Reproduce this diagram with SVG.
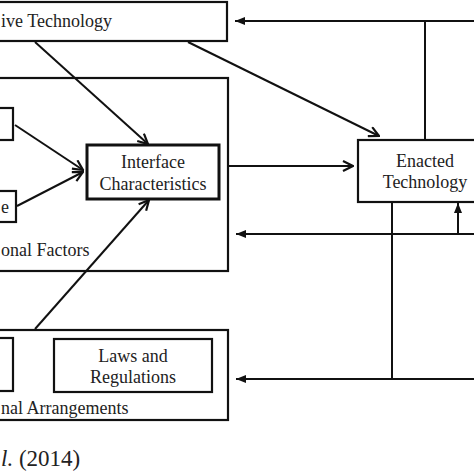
<svg xmlns="http://www.w3.org/2000/svg" width="474" height="474" viewBox="0 0 474 474">
<style>
.box{fill:#fff;stroke:#111;stroke-width:2.2}
.thick{fill:#fff;stroke:#111;stroke-width:3}
.t{font-family:"Liberation Serif","Times New Roman",serif;font-size:18px;fill:#222}
.c{text-anchor:middle}
.ln{fill:none;stroke:#111;stroke-width:2}
</style>
<defs>
<marker id="open" viewBox="0 0 12 12" refX="11" refY="6" markerWidth="12" markerHeight="12" orient="auto" markerUnits="userSpaceOnUse"><path d="M1,1 L11,6 L1,11" fill="none" stroke="#111" stroke-width="2.2"/></marker>
<marker id="fill" viewBox="0 0 10 8" refX="10" refY="4" markerWidth="10" markerHeight="8" orient="auto" markerUnits="userSpaceOnUse"><path d="M0,0 L10,4 L0,8 Z" fill="#111"/></marker>
</defs>
<rect width="474" height="474" fill="#fff"/>
<g id="perceived-technology">
<rect class="box" x="-5" y="2" width="232" height="39"/>
<text class="t" x="1" y="27">ive Technology</text>
</g>
<g id="organizational-factors">
<rect class="box" x="-5" y="78" width="233" height="193"/>
<text class="t" x="1" y="256">onal Factors</text>
</g>
<g id="org-box-1">
<rect class="box" x="-5" y="108" width="18" height="32"/>
</g>
<g id="org-box-2">
<rect class="box" x="-5" y="191" width="21" height="31"/>
<text class="t" x="1" y="213">e</text>
</g>
<g id="interface-characteristics">
<rect class="thick" x="87" y="145" width="132" height="54"/>
<text class="t c" x="153" y="168">Interface</text>
<text class="t c" x="153" y="190">Characteristics</text>
</g>
<g id="enacted-technology">
<rect class="box" x="358" y="140" width="125" height="62"/>
<text class="t c" x="425" y="167">Enacted</text>
<text class="t c" x="425" y="188">Technology</text>
</g>
<g id="institutional-arrangements">
<rect class="box" x="-5" y="330" width="233" height="90"/>
<text class="t" x="1" y="414">nal Arrangements</text>
</g>
<g id="inst-box-1">
<rect class="box" x="-5" y="338" width="18" height="53"/>
</g>
<g id="laws-and-regulations">
<rect class="box" x="54" y="339" width="158" height="53"/>
<text class="t c" x="133" y="362">Laws and</text>
<text class="t c" x="133" y="383">Regulations</text>
</g>
<g id="connectors">
<line class="ln" x1="15" y1="125" x2="83" y2="170" marker-end="url(#open)"/>
<line class="ln" x1="17" y1="206" x2="83" y2="172" marker-end="url(#open)"/>
<line class="ln" x1="35" y1="42" x2="148" y2="144" marker-end="url(#open)"/>
<line class="ln" x1="35" y1="329" x2="149" y2="200" marker-end="url(#open)"/>
<line class="ln" x1="188" y1="42" x2="379" y2="136" marker-end="url(#open)"/>
<line class="ln" x1="228" y1="166" x2="353" y2="166" marker-end="url(#open)"/>
<line class="ln" x1="474" y1="21" x2="235" y2="21" marker-end="url(#fill)"/>
<line class="ln" x1="425" y1="21" x2="425" y2="140"/>
<line class="ln" x1="474" y1="234" x2="236" y2="234" marker-end="url(#fill)"/>
<line class="ln" x1="474" y1="379" x2="236" y2="379" marker-end="url(#fill)"/>
<line class="ln" x1="392" y1="202" x2="392" y2="379"/>
<line class="ln" x1="458" y1="234" x2="458" y2="203" marker-end="url(#fill)"/>
</g>
<text x="1" y="466" style="font-family:'Liberation Serif','Times New Roman',serif;font-size:23px;fill:#222"><tspan font-style="italic">l.</tspan> (2014)</text>
</svg>
